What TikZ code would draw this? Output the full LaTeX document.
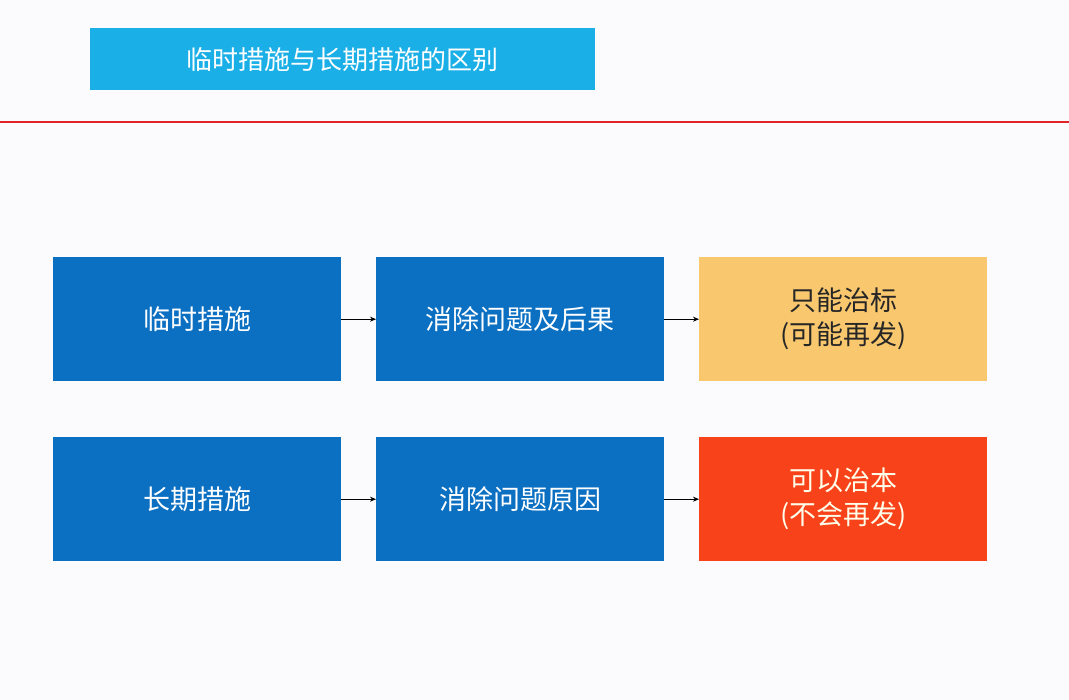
\documentclass[tikz,border=0pt]{standalone}
\usepackage{fontspec}
\setmainfont{Noto Sans CJK SC}
\usetikzlibrary{arrows.meta}
\definecolor{bg}{HTML}{FBFBFD}
\definecolor{ttl}{HTML}{1AAFE6}
\definecolor{blu}{HTML}{0B6FC2}
\definecolor{yel}{HTML}{F8C76E}
\definecolor{org}{HTML}{F8431A}
\definecolor{rline}{HTML}{E0242A}
\tikzset{
 bx/.style={minimum width=288pt,minimum height=124pt,inner sep=0pt,font=\fontsize{27}{34}\selectfont,align=center,anchor=north west},
 bb/.style={bx,fill=blu,text=white},
 ar/.style={-{Stealth[length=6pt,width=5pt]},black,line width=0.8pt}
}
\begin{document}
\begin{tikzpicture}[x=1pt,y=-1pt]
\useasboundingbox (0,0) rectangle (1069,700);
\fill[bg] (0,0) rectangle (1069,700);
\node[fill=ttl,text=white,minimum width=505pt,minimum height=62pt,anchor=north west,inner sep=0pt,font=\fontsize{26}{30}\selectfont] (title) at (90,28) {临时措施与长期措施的区别};
\coordinate (l1) at (0,122); \coordinate (l2) at (1069,122);
\draw[rline,line width=2.5pt] (l1) -- (l2);
\node[bb] (a1) at (53,257) {临时措施};
\node[bb] (a2) at (376,257) {消除问题及后果};
\node[bx,fill=yel,text=black!85] (a3) at (699,257) {只能治标\\(可能再发)};
\node[bb] (b1) at (53,437) {长期措施};
\node[bb] (b2) at (376,437) {消除问题原因};
\node[bx,fill=org,text=white!92!yellow] (b3) at (699,437) {可以治本\\(不会再发)};
\draw[ar] (a1) -- (a2); \draw[ar] (a2) -- (a3);
\draw[ar] (b1) -- (b2); \draw[ar] (b2) -- (b3);
\end{tikzpicture}
\end{document}
